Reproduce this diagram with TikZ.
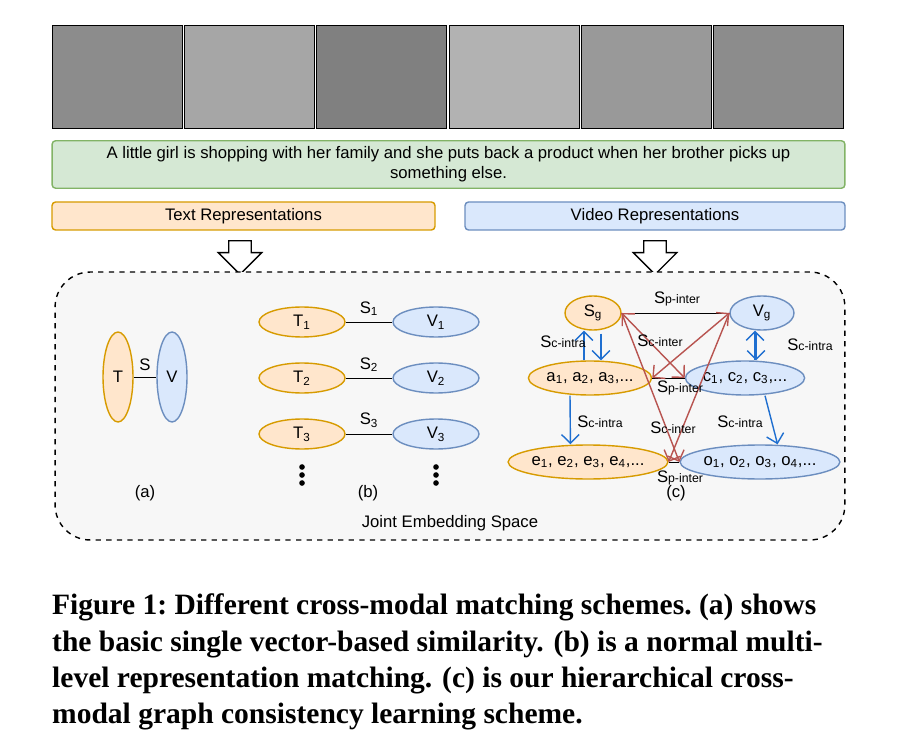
\documentclass[tikz,border=0pt]{standalone}
\usepackage{fontspec}
\setmainfont{Liberation Sans}
\newfontfamily\capfont{Liberation Serif}
\usetikzlibrary{shapes.geometric,arrows.meta,shapes.arrows}
\definecolor{tfill}{HTML}{FFE6CC}\definecolor{tdraw}{HTML}{D79B00}
\definecolor{vfill}{HTML}{DAE8FC}\definecolor{vdraw}{HTML}{6C8EBF}
\definecolor{gfill}{HTML}{D5E8D4}\definecolor{gdraw}{HTML}{82B366}
\definecolor{redarr}{HTML}{B85450}\definecolor{bluearr}{HTML}{1F6FD0}
\newcommand{\simlab}[2]{S{\scriptsize #1-#2}}
\newcommand{\sub}[1]{\textsubscript{#1}}
\begin{document}
\begin{tikzpicture}[x=0.02cm,y=-0.02cm,font=\fontsize{9.5}{11.5}\selectfont,
  tel/.style={ellipse,draw=tdraw,fill=tfill,thick,inner sep=0pt},
  vel/.style={ellipse,draw=vdraw,fill=vfill,thick,inner sep=0pt},
  bar/.style={rounded corners=2pt,thick,minimum height=0.56cm},
  red/.style={redarr,thick,-{Straight Barb[length=5pt]}},
  blu/.style={bluearr,thick,-{Straight Barb[length=5pt]}},
  hollow/.style={single arrow,draw,thick,fill=white,shape border rotate=270,inner sep=6pt,single arrow head extend=6pt,minimum height=18pt}]
\useasboundingbox (0,0) rectangle (915,756);
% video frames
\foreach \i/\c in {0/black!45,1/black!35,2/black!50,3/black!30,4/black!40,5/black!45}
  \node[draw,fill=\c,minimum width=2.6cm,minimum height=2.06cm,inner sep=0pt,anchor=north west] (f\i) at (52+\i*132.2,25) {};
\node[bar,draw=gdraw,fill=gfill,minimum width=15.86cm,minimum height=0.86cm,align=center] (cap) at (448.5,164.5)
  {A little girl is shopping with her family and she puts back a product when her brother picks up\\something else.};
\node[bar,draw=tdraw,fill=tfill,minimum width=7.66cm] (trep) at (243.5,216) {Text Representations};
\node[bar,draw=vdraw,fill=vfill,minimum width=7.6cm] (vrep) at (655,216) {Video Representations};
\node[hollow] (ha) at (240,252) {};
\node[hollow] (hb) at (655,252) {};
\node[draw,dashed,thick,rounded corners=20pt,fill=black!3,minimum width=15.8cm,minimum height=5.36cm] (space) at (450,406) {};
\node (jes) at (450,523) {Joint Embedding Space};
% (a)
\node[tel,minimum width=0.6cm,minimum height=1.8cm] (T) at (118,377) {T};
\node[vel,minimum width=0.6cm,minimum height=1.8cm] (V) at (172,377) {V};
\draw (T) -- node[above] {S} (V);
\node (la) at (145,493) {(a)};
% (b)
\foreach \k/\y in {1/322,2/378,3/434}{
  \node[tel,minimum width=1.72cm,minimum height=0.6cm] (T\k) at (302,\y) {T\sub{\k}};
  \node[vel,minimum width=1.72cm,minimum height=0.6cm] (V\k) at (436,\y) {V\sub{\k}};
  \draw (T\k) -- node[above] {S\sub{\k}} (V\k);
}
\foreach \x in {302,436}\foreach \y in {467,475,483}\fill (\x,\y) circle (1.6pt);
\node (lb) at (368,493) {(b)};
% (c)
\node[tel,minimum width=1.12cm,minimum height=0.68cm] (Sg) at (593,313) {S\sub{g}};
\node[vel,minimum width=1.28cm,minimum height=0.68cm] (Vg) at (762,313) {V\sub{g}};
\node[tel,minimum width=2.1cm,minimum height=0.68cm] (a) at (590,378) {a\sub1, a\sub2, a\sub3,...};
\node[vel,minimum width=2.06cm,minimum height=0.68cm] (c) at (745,378) {c\sub1, c\sub2, c\sub3,...};
\node[tel,minimum width=2.9cm,minimum height=0.68cm] (e) at (588,462) {e\sub1, e\sub2, e\sub3, e\sub4,...};
\node[vel,minimum width=2.9cm,minimum height=0.68cm] (o) at (760,462) {o\sub1, o\sub2, o\sub3, o\sub4,...};
\draw (Sg) -- (Vg); \draw (a) -- (c); \draw (e) -- (o);
\draw[red,{Straight Barb[length=5pt]}-{Straight Barb[length=5pt]}] (Sg.east) -- (c.west);
\draw[red,{Straight Barb[length=5pt]}-{Straight Barb[length=5pt]}] (Vg.west) -- (a.east);
\draw[red] (Sg.east) -- (o.west);
\draw[red] (Vg.west) -- (e.east);
\draw[blu] (a.north)++(-6,0) coordinate (a1) -- (Sg.south-|a1);
\draw[blu] (Sg.south)++(8,3) coordinate (s1) -- (a.north-|s1);
\draw[blu] (c.north)++(10,0) coordinate (c1) -- (Vg.south-|c1);
\draw[blu] (Vg.south)++(-6,3) coordinate (v1) -- (c.north-|v1);
\draw[blu] (a.south)++(-20,0) coordinate (a2) -- ([xshift=-10]e.north);
\draw[blu] (c.south)++(20,0) coordinate (c2) -- ([xshift=10]o.north);
\node (l1) at (677,299) {\simlab{p}{inter}};
\node (l2) at (660,341) {\simlab{c}{inter}};
\node (l3) at (680,388) {\simlab{p}{inter}};
\node (l4) at (563,342) {\simlab{c}{intra}};
\node (l5) at (810,345) {\simlab{c}{intra}};
\node (l6) at (600,422) {\simlab{c}{intra}};
\node (l7) at (740,422) {\simlab{c}{intra}};
\node (l8) at (673,428) {\simlab{c}{inter}};
\node (l9) at (680,478) {\simlab{p}{inter}};
\node (lc) at (676,493) {(c)};
% caption
\node[anchor=north west,align=left,font=\capfont\bfseries\fontsize{16.8}{20.6}\selectfont] (figcap) at (46,588)
 {\frenchspacing Figure 1: Different cross-modal matching schemes. (a) shows\\
  the basic single vector-based similarity. (b) is a normal multi-\\
  level representation matching. (c) is our hierarchical cross-\\
  modal graph consistency learning scheme.};
\end{tikzpicture}
\end{document}
